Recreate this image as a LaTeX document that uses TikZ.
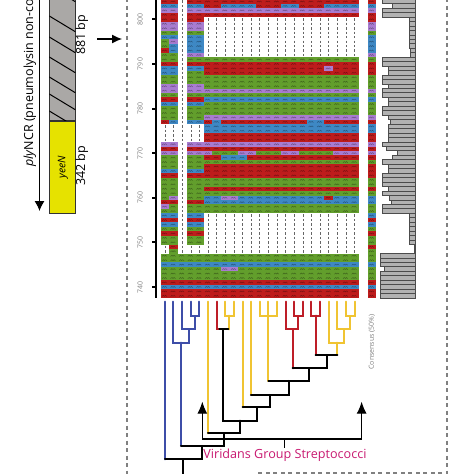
\documentclass[tikz,border=0pt]{standalone}
\usepackage{fontspec}
\setsansfont{Open Sans}
\usetikzlibrary{arrows.meta}
\definecolor{cellr}{RGB}{190,28,28}
\definecolor{cellg}{RGB}{98,158,44}
\definecolor{cellb}{RGB}{62,136,196}
\definecolor{cellp}{RGB}{168,124,208}
\definecolor{treeblue}{RGB}{62,78,168}
\definecolor{treeyellow}{RGB}{240,196,50}
\definecolor{treered}{RGB}{190,30,40}
\definecolor{geneyellow}{RGB}{230,226,0}
\definecolor{genegray}{RGB}{170,168,166}
\definecolor{viridans}{RGB}{200,24,112}
\tikzset{
  gapdash/.style={draw=black!60,line width=.7pt},
  barbox/.style={draw=black!70,fill=black!30,line width=1pt},
  boxdash/.style={draw=black!50,line width=1.3pt,dash pattern=on 4pt off 3.5pt},
  treeline/.style={line width=2pt,line cap=round},
  tickfont/.style={font=\sffamily\fontsize{7}{8}\selectfont,text=black!50,rotate=90},
  genefont/.style={font=\sffamily\fontsize{12.5}{14}\selectfont,rotate=90},
}
\newcount\cellk
\newcommand\rowy[1]{\pgfmathsetmacro\celly{287-(#1-740)*4.46}}
\newcommand\cellput[1]{%
  \pgfmathsetmacro\cellx{\cellk<23?165+8.62*\cellk:372}%
  \pgfmathsetmacro\cellw{\cellk<23?4.31:4}%
  \ifx#1x\draw[gapdash] (\cellx,\celly-1.2) -- (\cellx,\celly+1.2);%
  \else
    \fill[cell#1] (\cellx-\cellw,\celly-2.23) rectangle (\cellx+\cellw,\celly+2.23);%
    \draw[cell#1!65!black,line width=.5pt] (\cellx-3,\celly+.6) -- ++(1.3,-1.2) -- ++(1.1,1) -- ++(1.1,-1) -- ++(1.3,1.2);%
  \fi}
\newcommand\cellnext[1]{\ifx#1\relax\else\cellput{#1}\advance\cellk by 1 \expandafter\cellnext\fi}
\def\allr{rrrrrrrrrrrrrrrrrr}
\def\allg{gggggggggggggggggg}
\def\allb{bbbbbbbbbbbbbbbbbb}
\def\allp{pppppppppppppppppp}
\def\allx{xxxxxxxxxxxxxxxxxx}
\begin{document}
\begin{tikzpicture}[x=1pt,y=-1pt]
\useasboundingbox (0,0) rectangle (474,474);
% gene map
\node[genefont,anchor=west,inner sep=0pt] (plyncr) at (30,167) {\textit{ply}NCR (pneumolysin non-co};
\coordinate (arrowtop) at (39.5,-2);
\coordinate (arrowend) at (39.5,211);
\draw[-{Latex[length=10pt,width=10pt]},line width=1.1pt] (arrowtop) -- (arrowend);
\draw[draw=black!80,fill=genegray,line width=1pt] (49.3,-3) rectangle (75.3,120.7);
\node[draw=black!80,fill=geneyellow,line width=1pt,minimum width=26pt,minimum height=92.3pt,inner sep=0pt,anchor=north west] (yeen) at (49.3,120.7) {};
\node[genefont,font=\sffamily\itshape\fontsize{10.5}{12}\selectfont] (yeenlabel) at (yeen.center) {yeeN};
\begin{scope}
\clip (49.3,-3) rectangle (75.3,120.7);
\foreach \h in {-14,16,37,57,77,94,111}{\draw[line width=1pt] (49.3,\h) -- ++(26,15.7);}
\end{scope}
\node[genefont,anchor=west,inner sep=0pt] (bp881) at (82,55) {881 bp};
\node[genefont,anchor=west,inner sep=0pt] (bp342) at (82,186) {342 bp};
\coordinate (markstart) at (97,39);
\coordinate (markend) at (122,39);
\draw[-{Latex[length=10pt,width=9pt]},line width=1.1pt] (markstart) -- (markend);
% dashed frame
\draw[boxdash] (127,-2) -- (127,474);
\draw[boxdash] (447,-2) -- (447,473) -- (258,473);
% residue axis
\draw[line width=2pt] (155.7,-2) -- (155.7,297.7);
\foreach \r in {740,750,...,800}{
  \rowy{\r}
  \draw[line width=2pt] (152,\celly) -- (155.7,\celly);
  \node[tickfont] (tick\r) at (140,\celly) {\r};
}
% alignment, one string per residue: 23 columns and the consensus
\foreach \r/\s in {
738/rrrrr\allr r,739/rrrrr\allr r,740/bbbbb\allb b,741/rrrrr\allr r,
742/ggggg\allg g,743/ggggg\allg g,744/gggggggppggggggggggggggg,745/bbbbb\allb b,
746/ggggg\allg g,747/ggggg\allg g,
748/xgxxx\allx g,749/xrxxx\allx r,750/ggxgg\allx g,751/ggxgg\allx g,
752/rrxrr\allx r,753/ggxgg\allx g,754/bbxbb\allx b,755/rrxrr\allx r,
756/bbxbb\allx b,
757/ggxgg\allg g,758/pgxgg\allg g,759/rrxrr\allb b,760/gpxggbbppbbbbbbbbbbrbbbb,
761/ggxgg\allg g,762/ggxgg\allr r,763/ggxgg\allg g,764/ggxgg\allg g,
765/rrxrr\allr r,766/bbxbb\allr r,767/ggxgg\allr r,768/ggxgg\allg g,
769/ggxggrrbbbrrrrrrrrrrrrrr,770/ppxpppgggppgggppggggpppp,771/rrxrr\allr r,772/ppxpp\allp p,
773/xxxxx\allr r,774/xxxxx\allr r,775/xxxxx\allb b,776/xxxxx\allb b,
777/rbxbbrbrrrrrrrrrrbbrrrrr,778/ggxgg\allp p,779/ggxgg\allg g,780/ggxgg\allg g,
781/bbxbb\allg g,782/rrxrr\allb b,783/ggxgg\allg g,784/ppxpp\allp p,
785/ppxpp\allg g,786/ggxgg\allg g,787/ggxgg\allg g,788/bbxgg\allr r,
789/bbxbbrrrrrrrrrrrrrrprrrr,790/rrxrr\allr r,791/ggxgg\allg g,
792/ggxpp\allx p,793/rbxbb\allx b,794/gbxbb\allx b,795/gpxbb\allx b,
796/bbxbb\allx b,797/ggxgg\allx g,798/ppxpp\allx p,799/ppxpp\allx p,
800/rrxrr\allx r,
801/rrxrr\allr r,802/ppxpp\allp p,803/bbxbbrrbbbbrrrbbrrrbbbbb,804/rrxrr\allr r}{
  \rowy{\r}
  \cellk=0
  \edef\rowstr{\s}
  \expandafter\cellnext\rowstr\relax
}
% conservation bars
\foreach \r/\b in {
738/272,739/272,740/272,741/272,742/272,743/272,744/282,745/272,746/272,747/272,748/372,749/372,
750/358,751/358,752/358,753/358,754/358,755/358,756/358,757/277,758/277,759/304,760/298,761/277,
762/295,763/277,764/277,765/277,766/295,767/295,768/277,769/308,770/322,771/290,772/277,773/295,
774/295,775/295,776/295,777/302,778/295,779/277,780/277,781/295,782/295,783/277,784/277,785/295,
786/277,787/277,788/295,789/295,790/277,791/277,792/362,793/362,794/358,795/358,796/358,797/358,
798/358,799/358,800/358,801/277,802/277,803/308,804/277}{
  \rowy{\r}
  \pgfmathsetmacro\barx{290+\b/3}
  \draw[barbox] (\barx,\celly-2.23) rectangle (415.5,\celly+2.23);
}
\node[tickfont] (consensus) at (372,342) {Consensus (50\%)};
% tree, in thirds of a pixel from (120,300)
\begin{scope}[shift={(120pt,-300pt)},x=.3333pt,y=-.3333pt]
\draw[treeline,treeblue] (135,5) -- (135,478);
\draw[treeline,treeblue] (160,5) -- (160,128) -- (207,128) -- (207,88) -- (225,88) -- (225,47) -- (238,47) -- (238,5);
\draw[treeline,treeblue] (186,5) -- (186,88) -- (207,88);
\draw[treeline,treeblue] (212,5) -- (212,47) -- (225,47);
\draw[treeline,treeblue] (183,128) -- (183,438);
\draw[treeline,treeyellow] (264,5) -- (264,400);
\draw[treeline,treeyellow] (316,5) -- (316,47) -- (342,47) -- (342,5);
\draw[treeline,treeyellow] (327,47) -- (327,88);
\draw[treeline,treeyellow] (368,5) -- (368,322);
\draw[treeline,treeyellow] (393,5) -- (393,283);
\draw[treeline,treeyellow] (419,5) -- (419,47) -- (471,47) -- (471,5);
\draw[treeline,treeyellow] (445,5) -- (445,243);
\draw[treeline,treeyellow] (626,5) -- (626,128) -- (672,128) -- (672,88) -- (690,88) -- (690,47) -- (704,47) -- (704,5);
\draw[treeline,treeyellow] (652,5) -- (652,88) -- (672,88);
\draw[treeline,treeyellow] (678,5) -- (678,47) -- (690,47);
\draw[treeline,treeyellow] (650,128) -- (650,165);
\draw[treeline,treered] (290,5) -- (290,88) -- (310,88);
\draw[treeline,treered] (497,5) -- (497,88) -- (535,88) -- (535,47) -- (548,47) -- (548,5);
\draw[treeline,treered] (522,5) -- (522,47) -- (535,47);
\draw[treeline,treered] (518,88) -- (518,205);
\draw[treeline,treered] (574,5) -- (574,47) -- (600,47) -- (600,5);
\draw[treeline,treered] (587,47) -- (587,165);
\draw[treeline] (190,530) -- (190,478);
\draw[treeline] (135,478) -- (247,478) -- (247,438);
\draw[treeline] (183,438) -- (312,438) -- (312,400);
\draw[treeline] (264,400) -- (360,400) -- (360,362);
\draw[treeline] (298,88) -- (325,88);
\draw[treeline] (310,88) -- (310,362) -- (410,362) -- (410,322);
\draw[treeline] (368,322) -- (450,322) -- (450,285);
\draw[treeline] (393,285) -- (507,285) -- (507,243);
\draw[treeline] (445,243) -- (568,243) -- (568,205);
\draw[treeline] (518,205) -- (620,205) -- (620,165);
\draw[treeline] (587,165) -- (652,165);
% bracket for the group
\coordinate (groupleft) at (247,305);
\coordinate (groupright) at (725,305);
\coordinate (groupmid) at (494,445);
\draw[{Latex[length=12pt,width=10pt]}-{Latex[length=12pt,width=10pt]},line width=1.1pt] (groupleft) -- (247,417) -- (725,417) -- (groupright);
\draw[line width=1.1pt] (494,417) -- (groupmid);
\node[font=\sffamily\fontsize{12.6}{14}\selectfont,text=viridans,inner sep=0pt] (viridanslabel) at (495,467) {Viridans Group Streptococci};
\end{scope}
\end{tikzpicture}
\end{document}
